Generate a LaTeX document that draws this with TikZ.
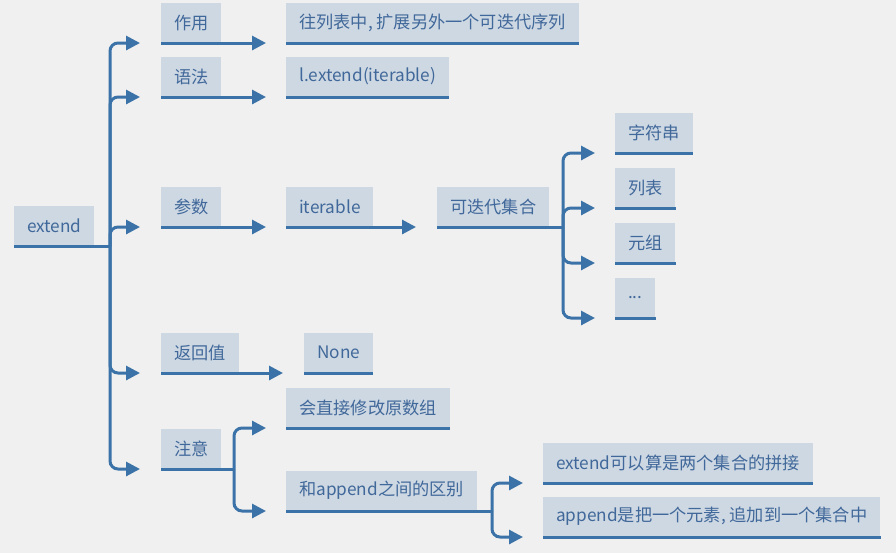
\documentclass[tikz,border=0pt]{standalone}
\usepackage{fontspec}
\setmainfont{Noto Sans CJK SC}
\usetikzlibrary{arrows.meta,calc}
\definecolor{mmblue}{HTML}{3B73A8}
\definecolor{mmfill}{HTML}{CDD8E3}
\definecolor{mmtext}{HTML}{41689A}
\definecolor{mmback}{HTML}{F0F0F0}

\begin{document}
\begin{tikzpicture}[
    x=0.5pt,y=-0.5pt,
    box/.style = {rectangle,fill=mmfill,anchor=south west,inner xsep=6.4pt,inner ysep=0pt,
                  minimum height=20pt,text=mmtext,font=\fontsize{8.6pt}{10pt}\selectfont},
    ul/.style  = {mmblue,line width=1.5pt},
    ln/.style  = {mmblue,line width=1.5pt},
    fl/.style  = {-{Triangle[length=7pt,width=7pt]},mmblue,line width=1.5pt,rounded corners=4pt},
  ]
  \fill[mmback] (0,0) rectangle (896,553);
  \useasboundingbox (0,0) rectangle (896,553);

  \node[box] (root) at (14,246)  {extend};

  \node[box] (zy)   at (161,43)  {作用};
  \node[box] (zyv)  at (286,43)  {往列表中, 扩展另外一个可迭代序列};
  \node[box] (yf)   at (161,97)  {语法};
  \node[box] (yfv)  at (286,97)  {l.extend(iterable)};
  \node[box] (cs)   at (161,227) {参数};
  \node[box] (csv)  at (286,227) {iterable};
  \node[box] (jh)   at (437,227) {可迭代集合};
  \node[box] (zfc)  at (615,153) {字符串};
  \node[box] (lb)   at (615,208) {列表};
  \node[box] (yz)   at (615,263) {元组};
  \node[box] (dd)   at (615,318) {...};
  \node[box] (fh)   at (161,373) {返回值};
  \node[box] (fhv)  at (304,373) {None};
  \node[box] (zyi)  at (161,469) {注意};
  \node[box] (xg)   at (286,428) {会直接修改原数组};
  \node[box] (qb)   at (286,511) {和append之间的区别};
  \node[box] (pj)   at (543,483) {extend可以算是两个集合的拼接};
  \node[box] (zj)   at (543,537) {append是把一个元素, 追加到一个集合中};

  \foreach \n in {root,zy,zyv,yf,yfv,cs,csv,jh,zfc,lb,yz,dd,fh,fhv,zyi,xg,qb,pj,zj}
    \draw[ul] (\n.south west) -- (\n.south east);

  % trunk points
  \coordinate (t0) at (110,246);
  \coordinate (t1) at (563,227);
  \coordinate (t2) at (234,469);
  \coordinate (t3) at (492,511);

  \draw[ln] (root.south east) -- (t0);
  \foreach \n in {zy,yf,cs,fh,zyi}
    \draw[fl] (t0) |- ([xshift=-10.5pt]\n.south west);

  \draw[fl] (zy.south east) -- ([xshift=-10pt]zyv.south west);
  \draw[fl] (yf.south east) -- ([xshift=-10pt]yfv.south west);
  \draw[fl] (cs.south east) -- ([xshift=-10pt]csv.south west);
  \draw[fl] (csv.south east) -- ([xshift=-10.5pt]jh.south west);
  \draw[fl] (fh.south east) -- ([xshift=-10.5pt]fhv.south west);

  \draw[ln] (jh.south east) -- (t1);
  \foreach \n in {zfc,lb,yz,dd}
    \draw[fl] (t1) |- ([xshift=-10pt]\n.south west);

  \draw[ln] (zyi.south east) -- (t2);
  \foreach \n in {xg,qb}
    \draw[fl] (t2) |- ([xshift=-10pt]\n.south west);

  \draw[ln] (qb.south east) -- (t3);
  \foreach \n in {pj,zj}
    \draw[fl] (t3) |- ([xshift=-10pt]\n.south west);

\end{tikzpicture}
\end{document}
